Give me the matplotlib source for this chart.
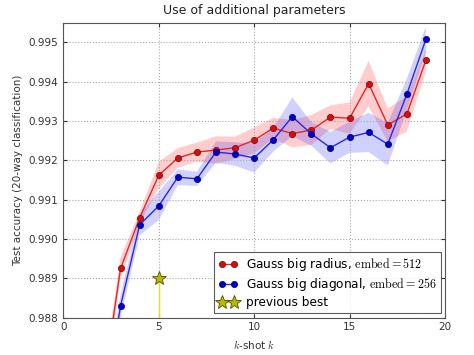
import numpy as np
import matplotlib
matplotlib.use("Agg")
import matplotlib.pyplot as plt

plt.rcParams["mathtext.fontset"] = "cm"
plt.rcParams["font.family"] = "DejaVu Sans"

############################ DATA ############################
k_shots = [2, 3, 4, 5, 6, 7, 8, 9, 10, 11, 12, 13, 14, 15, 16, 17, 18, 19]

radius_acc = [0.98596, 0.98925, 0.99054, 0.99162, 0.99206, 0.99221, 0.99226, 0.99232, 0.99251,
              0.99282, 0.99268, 0.99277, 0.99310, 0.99307, 0.99395, 0.99290, 0.99318, 0.99455]
radius_err = [0.00030, 0.00028, 0.00015, 0.00034, 0.00025, 0.00024, 0.00035, 0.00028, 0.00033,
              0.00026, 0.00035, 0.00038, 0.00030, 0.00040, 0.00058, 0.00042, 0.00045, 0.00028]

diag_acc = [0.98530, 0.98830, 0.99036, 0.99084, 0.99157, 0.99153, 0.99221, 0.99216, 0.99206,
            0.99252, 0.99311, 0.99267, 0.99232, 0.99259, 0.99271, 0.99241, 0.99368, 0.99508]
diag_err = [0.00030, 0.00030, 0.00027, 0.00036, 0.00020, 0.00018, 0.00027, 0.00030, 0.00037,
            0.00030, 0.00049, 0.00030, 0.00040, 0.00040, 0.00050, 0.00054, 0.00040, 0.00032]

prev_best_k = [5, 5]
prev_best_acc = [0.989, 0.980]

######################### PLOT ###############################
fig = plt.figure(figsize=(4.74, 3.55), dpi=100)
ax = fig.add_axes([0.1336, 0.1054, 0.8052, 0.8306])

k = np.array(k_shots)
r = np.array(radius_acc)
re = np.array(radius_err)
d = np.array(diag_acc)
de = np.array(diag_err)

ax.fill_between(k, r - re, r + re, color="#ff3030", alpha=0.24, linewidth=0)
ax.fill_between(k, d - de, d + de, color="#3030ff", alpha=0.22, linewidth=0)

ax.plot(k, r, "-o", color="#e02828", markerfacecolor="#d01010", markeredgecolor="#800000",
        markeredgewidth=0.5, markersize=4.5, linewidth=1.0,
        label=r"Gauss big radius, $\mathrm{embed} = 512$")
ax.plot(k, d, "-o", color="#2828e0", markerfacecolor="#0000cc", markeredgecolor="#000070",
        markeredgewidth=0.5, markersize=4.5, linewidth=1.0,
        label=r"Gauss big diagonal, $\mathrm{embed} = 256$")
ax.plot(prev_best_k, prev_best_acc, "-*", color="#e0e020", markerfacecolor="#b8b800",
        markeredgecolor="#505000", markeredgewidth=0.6, markersize=10, linewidth=1.0,
        label="previous best")

ax.set_xlim(0, 20)
ax.set_ylim(0.988, 0.9955)
ax.set_xticks([0, 5, 10, 15, 20])
ax.set_yticks([0.988, 0.989, 0.990, 0.991, 0.992, 0.993, 0.994, 0.995])
ax.set_yticklabels(["%.3f" % v for v in ax.get_yticks()])

ax.grid(True, linestyle=":", color="#a8a8a8", linewidth=0.8)
ax.tick_params(direction="in", length=3, labelsize=7.5, colors="#333333", top=True, right=True)
for s in ax.spines.values():
    s.set_color("#555555")

ax.set_title("Use of additional parameters", fontsize=9, color="#222222")
ax.set_xlabel(r"$k$-shot $k$", fontsize=7.5, color="#333333")
ax.set_ylabel("Test accuracy (20-way classification)", fontsize=7.5, color="#333333")

leg = ax.legend(loc="lower right", fontsize=8.7, numpoints=2, fancybox=False,
                borderaxespad=0.35, handlelength=1.6, handletextpad=0.7,
                labelspacing=0.25, borderpad=0.35)
leg.get_frame().set_edgecolor("#333333")
leg.get_frame().set_linewidth(0.8)

fig.savefig("out.png", dpi=100)
